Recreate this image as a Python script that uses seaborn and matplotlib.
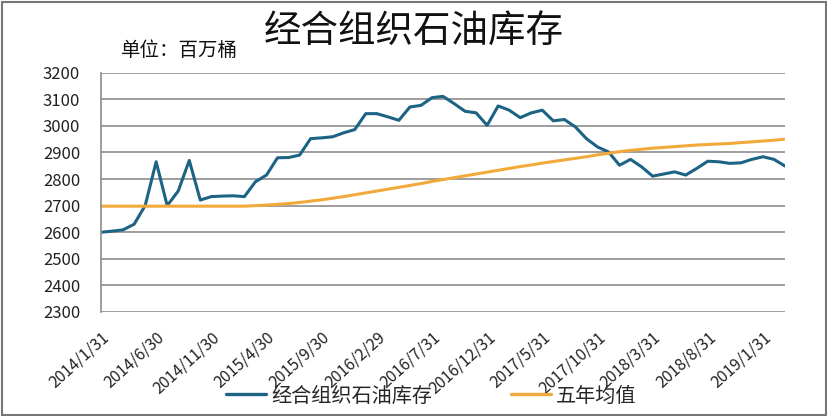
import matplotlib
matplotlib.use("Agg")
import matplotlib.pyplot as plt
import seaborn as sns
import pandas as pd
from matplotlib.patches import Rectangle
from matplotlib.lines import Line2D

sns.set_style("white")
plt.rcParams['font.family'] = ['Noto Sans CJK SC', 'DejaVu Sans']

inventory = [2600, 2604, 2609, 2630, 2700, 2865, 2700, 2755, 2870, 2721,
             2734, 2736, 2737, 2734, 2790, 2815, 2880, 2881, 2890, 2952,
             2955, 2959, 2974, 2986, 3046, 3046, 3034, 3021, 3071, 3077,
             3106, 3111, 3084, 3055, 3049, 3002, 3075, 3059, 3031, 3049,
             3059, 3019, 3024, 2996, 2952, 2921, 2902, 2852, 2874, 2846,
             2811, 2819, 2827, 2815, 2840, 2867, 2865, 2859, 2861, 2874,
             2884, 2874, 2849]
five_year_avg = [2698, 2698, 2698, 2698, 2698, 2698, 2698, 2698, 2698, 2698,
                 2698, 2698, 2698, 2698, 2700, 2702, 2705, 2708, 2712, 2717,
                 2722, 2728, 2734, 2741, 2748, 2755, 2762, 2769, 2776, 2783,
                 2791, 2798, 2805, 2812, 2819, 2826, 2833, 2840, 2847, 2853,
                 2860, 2866, 2872, 2878, 2884, 2891, 2897, 2903, 2908, 2912,
                 2916, 2919, 2922, 2925, 2928, 2930, 2932, 2934, 2937, 2940,
                 2943, 2946, 2950]
dates = pd.date_range("2014-01-31", periods=len(inventory), freq="ME")
date_labels = [f"{d.year}/{d.month}/{d.day}" for d in dates]
yticks = list(range(2300, 3201, 100))

series1 = "经合组织石油库存"
series2 = "五年均值"
title = "经合组织石油库存"
unit = "单位：百万桶"
blue = "#1d6384"
orange = "#f2a93b"

df = pd.DataFrame({
    "idx": list(range(len(inventory))) * 2,
    "value": inventory + five_year_avg,
    "series": [series1] * len(inventory) + [series2] * len(five_year_avg),
})

fig = plt.figure(figsize=(8.28, 4.16), dpi=100)
ax = fig.add_axes([101/828, 1 - 312/416, (785-101)/828, (312-72.7)/416])

sns.lineplot(data=df, x="idx", y="value", hue="series",
             palette={series1: blue, series2: orange},
             linewidth=2.2, ax=ax, legend=False)

ax.set_xlim(0, len(inventory) - 1)
ax.set_ylim(2300, 3200)
ax.set_yticks(yticks)
ax.set_yticklabels([str(v) for v in yticks], fontsize=12, color="#222222")
tick_idx = list(range(0, len(inventory), 5))
ax.set_xticks(tick_idx)
ax.set_xticklabels([date_labels[i] for i in tick_idx], rotation=42,
                   ha="right", rotation_mode="anchor", fontsize=11.5,
                   color="#222222")
ax.tick_params(axis="x", length=0, pad=12)
ax.tick_params(axis="y", length=0, pad=15)
ax.grid(axis="y", color="#8c8c8c", linewidth=1.2)
ax.set_xlabel("")
ax.set_ylabel("")
for s in ["top", "right", "bottom"]:
    ax.spines[s].set_visible(False)
ax.spines["left"].set_color("#8c8c8c")
ax.spines["left"].set_linewidth(1.2)

fig.text(414/828, 1 - 31/416, title, ha="center", va="center", fontsize=27, color="#111111")
fig.text(121/828, 1 - 51/416, unit, ha="left", va="center", fontsize=14, color="#111111")

handles = [Line2D([], [], color=blue, linewidth=2.4),
           Line2D([], [], color=orange, linewidth=2.4)]
fig.legend(handles, [series1, series2], loc="center",
           bbox_to_anchor=(431/828, 1 - 396/416), ncol=2, frameon=False,
           fontsize=14.5, handlelength=2.0, handletextpad=0.25,
           columnspacing=3.9, borderpad=0, borderaxespad=0)

fig.add_artist(Rectangle((0.002, 0.003), 0.995, 0.993, transform=fig.transFigure,
                         fill=False, edgecolor="#777777", linewidth=1.5))

fig.savefig("out.png", dpi=100)
